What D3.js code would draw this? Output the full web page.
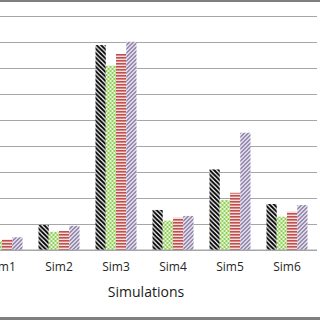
<!DOCTYPE html>
<meta charset="utf-8">
<style>
  body { margin: 0; background: #fff; }
</style>
<script src="https://d3js.org/d3.v7.min.js"></script>
<div id="my_dataviz"></div>
<script>

// Data (in grid units of 10)
var categories = ["Sim1", "Sim2", "Sim3", "Sim4", "Sim5", "Sim6"];
var series = ["s1", "s2", "s3", "s4"];
var s1 = [4.0, 9.6, 78.8, 15.4, 31.0, 17.7];
var s2 = [3.5, 7.0, 70.9, 11.3, 19.2, 12.8];
var s3 = [4.1, 7.3, 75.4, 12.4, 22.0, 14.7];
var s4 = [4.9, 9.3, 80.1, 13.1, 45.1, 17.3];
var yTicks = [0, 10, 20, 30, 40, 50, 60, 70, 80, 90];

var values = [s1, s2, s3, s4];
var rows = categories.map(function(c, i) {
  return { cat: c, vals: series.map(function(s, j) { return { key: s, v: values[j][i] }; }) };
});

var W = 320, H = 320;
var svg = d3.select("#my_dataviz").append("svg")
    .attr("width", W).attr("height", H);

// Patterns
var defs = svg.append("defs");

var p1 = defs.append("pattern").attr("id", "pat-s1")
    .attr("patternUnits", "userSpaceOnUse").attr("width", 4.5).attr("height", 4.5);
p1.append("rect").attr("width", 4.5).attr("height", 4.5).attr("fill", "#fff");
p1.append("path").attr("d", "M0,0 L4.5,4.5 M-1,3.5 L1,5.5 M3.5,-1 L5.5,1")
    .attr("stroke", "#000").attr("stroke-width", 1.9);

var p2 = defs.append("pattern").attr("id", "pat-s2")
    .attr("patternUnits", "userSpaceOnUse").attr("width", 4).attr("height", 4);
p2.append("rect").attr("width", 4).attr("height", 4).attr("fill", "#e8f5d8");
p2.append("rect").attr("width", 2).attr("height", 2).attr("fill", "#92cf5a");
p2.append("rect").attr("x", 2).attr("y", 2).attr("width", 2).attr("height", 2).attr("fill", "#92cf5a");

var p3 = defs.append("pattern").attr("id", "pat-s3")
    .attr("patternUnits", "userSpaceOnUse").attr("width", 4).attr("height", 3);
p3.append("rect").attr("width", 4).attr("height", 3).attr("fill", "#f6dede");
p3.append("rect").attr("width", 4).attr("height", 1.6).attr("fill", "#c0504d");

var p4 = defs.append("pattern").attr("id", "pat-s4")
    .attr("patternUnits", "userSpaceOnUse").attr("width", 4).attr("height", 4);
p4.append("rect").attr("width", 4).attr("height", 4).attr("fill", "#f2eef7");
p4.append("path").attr("d", "M0,4 L4,0 M-1,1 L1,-1 M3,5 L5,3")
    .attr("stroke", "#655587").attr("stroke-width", 1.2);

// Frame bands
svg.append("rect").attr("x", 0).attr("y", 0).attr("width", W).attr("height", 2).attr("fill", "#7f7f7f");
svg.append("rect").attr("x", 0).attr("y", 317).attr("width", W).attr("height", 3).attr("fill", "#7f7f7f");

// Scales
var x0 = d3.scaleBand().domain(categories).range([-26.5, 315.5]).padding(0);
var x1 = d3.scaleBand().domain(series).range([8, 49]).padding(0);
var y = d3.scaleLinear().domain([0, 90]).range([250, 16]);

// Gridlines
var grid = svg.append("g")
    .call(d3.axisLeft(y).tickValues(yTicks).tickSize(-317).tickFormat(""));
grid.select(".domain").remove();
grid.selectAll(".tick line").attr("stroke", "#a6a6a6").attr("stroke-width", 1);

// Bars
svg.append("g").selectAll("g")
  .data(rows)
  .enter().append("g")
    .attr("transform", function(d) { return "translate(" + x0(d.cat) + ",0)"; })
  .selectAll("rect")
  .data(function(d) { return d.vals; })
  .enter().append("rect")
    .attr("x", function(d) { return x1(d.key); })
    .attr("width", x1.bandwidth())
    .attr("y", function(d) { return y(d.v); })
    .attr("height", function(d) { return y(0) - y(d.v); })
    .style("fill", function(d) { return "url(#pat-" + d.key + ")"; });

// Baseline
svg.append("line").attr("x1", 0).attr("x2", 317)
    .attr("y1", y(0)).attr("y2", y(0))
    .attr("stroke", "#a6a6a6").attr("stroke-width", 1);

// X axis labels
var xa = svg.append("g")
    .attr("transform", "translate(0," + y(0) + ")")
    .call(d3.axisBottom(x0).tickSize(0).tickPadding(12));
xa.select(".domain").remove();
xa.selectAll("text")
    .style("font-family", "'Open Sans', sans-serif")
    .style("font-size", "12px")
    .attr("fill", "#262626");

// X axis title
svg.append("text")
    .attr("x", 146).attr("y", 297)
    .attr("text-anchor", "middle")
    .style("font-family", "'Open Sans', sans-serif")
    .style("font-size", "14px")
    .attr("fill", "#1a1a1a")
    .text("Simulations");

</script>
